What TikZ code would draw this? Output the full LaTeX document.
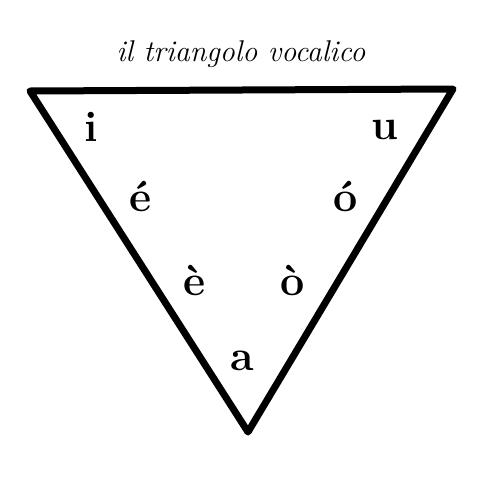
\documentclass[tikz,border=0pt]{standalone}
\usepackage{fontspec}
\begin{document}
\begin{tikzpicture}[x=1pt,y=-1pt,line join=round,line cap=round,
  vocale/.style={font=\fontsize{43}{48}\selectfont\bfseries}]
\useasboundingbox (0,0) rectangle (488,488);
\coordinate (A) at (30,91);
\coordinate (B) at (453,89);
\coordinate (C) at (248,432);
\draw[line width=7pt] (A)--(B)--(C)--cycle; % il triangolo
\node[font=\fontsize{30}{34}\selectfont\itshape] (titolo) at (241,54) {il triangolo vocalico};
\node[vocale] (i) at (91,127) {i};
\node[vocale] (u) at (385,130) {u};
\node[vocale] (ec) at (141,196) {é};
\node[vocale] (oc) at (346,196) {ó};
\node[vocale] (eg) at (195,280) {è};
\node[vocale] (og) at (293,280) {ò};
\node[vocale] (a) at (242,361) {a};
\end{tikzpicture}
\end{document}
